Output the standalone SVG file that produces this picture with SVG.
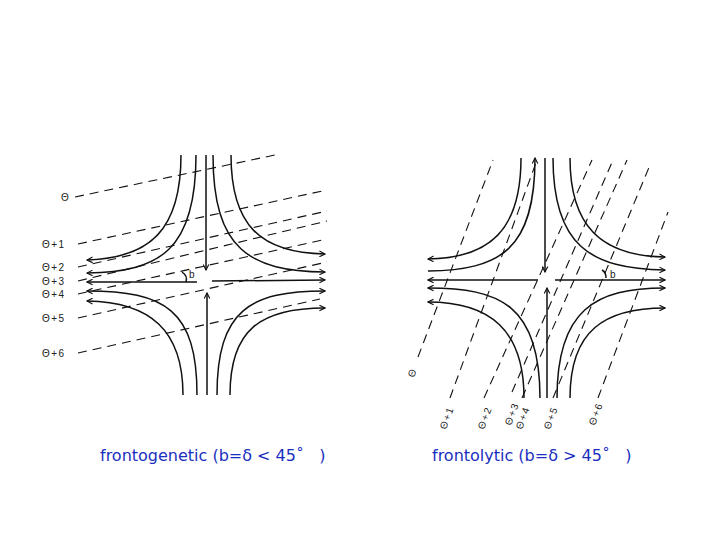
<svg xmlns="http://www.w3.org/2000/svg" width="720" height="540" viewBox="0 0 720 540">
<defs>
<marker id="a" viewBox="0 0 10 10" refX="9" refY="5" markerWidth="7" markerHeight="7" orient="auto-start-reverse" markerUnits="userSpaceOnUse"><path d="M1,1 L9,5 L1,9" fill="none" stroke="#111" stroke-width="1.6"/></marker>
</defs>
<style>
.s{fill:none;stroke:#111;stroke-width:1.5}
.d{fill:none;stroke:#111;stroke-width:1.1;stroke-dasharray:9,6}
.l{font-family:"Liberation Sans",sans-serif;font-size:10px;fill:#222;letter-spacing:1.5px}
.c{font-family:"Verdana","DejaVu Sans",sans-serif;font-size:16px;fill:#1a2fc0;white-space:pre}
</style>
<rect width="720" height="540" fill="#fff"/>
<g id="left">
<g class="s">
<path d="M181,155 C181,230 150,258 87,260" marker-end="url(#a)"/>
<path d="M196,155 C196,250 160,272 87,273" marker-end="url(#a)"/>
<path d="M197,282 L87,282" marker-end="url(#a)"/>
<path d="M212,281 L325,280" marker-end="url(#a)"/>
<path d="M206,155 L206,270" marker-end="url(#a)"/>
<path d="M207,395 L207,293" marker-end="url(#a)"/>
<path d="M231,155 C231,225 260,253 325,254" marker-end="url(#a)"/>
<path d="M213,155 C213,250 250,271 325,272" marker-end="url(#a)"/>
<path d="M197,395 C197,310 165,291 87,291" marker-end="url(#a)"/>
<path d="M183,395 C183,330 150,302 87,301" marker-end="url(#a)"/>
<path d="M217,395 C217,310 250,291 325,291" marker-end="url(#a)"/>
<path d="M230,395 C230,330 260,308 325,308" marker-end="url(#a)"/>
</g>
<g class="d">
<path d="M75,197 L275,155"/>
<path d="M78,244 L327,190"/>
<path d="M78,267 L327,211"/>
<path d="M78,281 L327,221"/>
<path d="M78,294 L327,239"/>
<path d="M78,318 L327,262"/>
<path d="M78,353 L320,299"/>
</g>
<path d="M182,272 q6,4 4,10" class="s" stroke-width="0.8"/>
<text x="189" y="278" class="l">b</text>
<text x="61" y="201" class="l">Θ</text>
<text x="42" y="248" class="l">Θ+1</text>
<text x="42" y="271" class="l">Θ+2</text>
<text x="42" y="285" class="l">Θ+3</text>
<text x="42" y="298" class="l">Θ+4</text>
<text x="42" y="322" class="l">Θ+5</text>
<text x="42" y="357" class="l">Θ+6</text>
</g>
<g id="right">
<g class="s">
<path d="M521,158 C521,230 490,258 428,259" marker-end="url(#a)"/>
<path d="M428,271 C500,270 535,250 535,158" marker-end="url(#a)"/>
<path d="M538,280 L428,280" marker-end="url(#a)"/>
<path d="M555,280 L665,280" marker-end="url(#a)"/>
<path d="M545,158 L545,272" marker-end="url(#a)"/>
<path d="M547,398 L547,288" marker-end="url(#a)"/>
<path d="M570,158 C570,225 600,256 665,257" marker-end="url(#a)"/>
<path d="M553,158 C553,245 590,269 665,270" marker-end="url(#a)"/>
<path d="M540,398 C540,305 500,288 428,288" marker-end="url(#a)"/>
<path d="M524,398 C524,330 490,302 428,302" marker-end="url(#a)"/>
<path d="M557,398 C557,310 595,288 665,288" marker-end="url(#a)"/>
<path d="M570,398 C570,330 605,308 665,308" marker-end="url(#a)"/>
</g>
<g class="d">
<path d="M418,357 L493,160"/>
<path d="M450,398 L537,160"/>
<path d="M484,398 L592,160"/>
<path d="M512,392 L613,160"/>
<path d="M522,398 L627,160"/>
<path d="M553,398 L650,165"/>
<path d="M598,398 L668,212"/>
</g>
<path d="M602,270 q4,2 4,8" class="s" stroke-width="0.8"/>
<text x="610" y="278" class="l">b</text>
<text transform="translate(414,378) rotate(-70)" class="l">Θ</text>
<text transform="translate(446,430) rotate(-70)" class="l">Θ+1</text>
<text transform="translate(484,430) rotate(-70)" class="l">Θ+2</text>
<text transform="translate(511,426) rotate(-70)" class="l">Θ+3</text>
<text transform="translate(522,430) rotate(-70)" class="l">Θ+4</text>
<text transform="translate(550,430) rotate(-70)" class="l">Θ+5</text>
<text transform="translate(595,426) rotate(-70)" class="l">Θ+6</text>
</g>
<g id="captions">
<text x="100" y="461" class="c" xml:space="preserve">frontogenetic (b=δ &lt; 45˚   )</text>
<text x="432" y="461" class="c" xml:space="preserve">frontolytic (b=δ &gt; 45˚   )</text>
</g>
</svg>
